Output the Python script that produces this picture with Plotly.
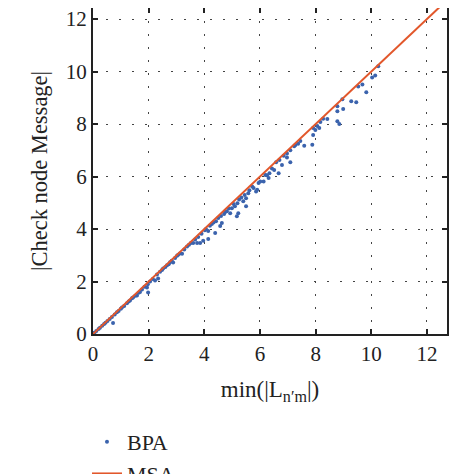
import plotly.graph_objects as go

# BPA samples: min(|L|) vs |check node message|
bpa_x = [0.05, 0.12, 0.20, 0.25, 0.33, 0.40, 0.45, 0.52, 0.60, 0.68, 0.72, 0.78, 0.86, 0.92,
         1.00, 1.04, 1.12, 1.22, 1.28, 1.33, 1.40, 1.44, 1.52, 1.58, 1.64, 1.69, 1.76, 1.85,
         1.94, 1.98, 1.97, 2.05, 2.15, 2.23, 2.34, 2.30, 2.41, 2.48, 2.52, 2.60, 2.66, 2.72,
         2.77, 2.83, 2.88, 2.95, 3.02, 3.06, 3.12, 3.20, 3.28, 3.38, 3.45, 3.52, 3.60, 3.67,
         3.74, 3.78, 3.85, 3.90, 3.96, 4.02, 4.06, 4.14, 4.14, 4.20, 4.27, 4.39, 4.33, 4.42,
         4.50, 4.57, 4.63, 4.60, 4.71, 4.75, 4.81, 4.88, 4.93, 4.99, 5.05, 5.10, 5.17, 5.22,
         5.19, 5.25, 5.33, 5.40, 5.45, 5.50, 5.50, 5.58, 5.62, 5.72, 5.77, 5.86, 5.90, 5.95,
         6.01, 6.13, 6.19, 6.25, 6.31, 6.34, 6.43, 6.51, 6.58, 6.67, 6.70, 6.79, 6.85, 6.97,
         6.97, 7.09, 7.09, 7.23, 7.27, 7.37, 7.45, 7.59, 7.88, 7.91, 7.91, 7.99, 8.06, 8.13,
         8.17, 8.27, 8.42, 8.78, 8.85, 8.78, 8.78, 8.96, 8.99, 9.28, 9.46, 9.53, 9.68, 9.82,
         10.03, 10.14, 10.25, 12.60]
bpa_y = [0.05, 0.11, 0.19, 0.24, 0.31, 0.38, 0.43, 0.50, 0.57, 0.65, 0.42, 0.74, 0.83, 0.88,
         0.96, 1.01, 1.07, 1.17, 1.24, 1.28, 1.36, 1.39, 1.46, 1.47, 1.57, 1.60, 1.70, 1.80,
         1.77, 1.58, 1.90, 2.00, 2.10, 2.04, 2.11, 2.27, 2.37, 2.44, 2.50, 2.55, 2.62, 2.66,
         2.73, 2.79, 2.72, 2.90, 2.98, 3.02, 3.07, 3.06, 3.22, 3.33, 3.40, 3.47, 3.47, 3.60,
         3.47, 3.70, 3.47, 3.82, 3.55, 3.95, 4.00, 3.62, 3.92, 4.12, 4.19, 3.85, 4.25, 4.30,
         4.42, 4.11, 4.23, 4.50, 4.57, 4.65, 4.68, 4.78, 4.60, 4.79, 4.95, 4.87, 4.49, 4.60,
         4.98, 5.12, 5.20, 5.06, 5.30, 5.17, 4.87, 5.36, 5.48, 5.62, 5.56, 5.43, 5.50, 5.75,
         5.81, 5.81, 6.06, 6.05, 5.94, 6.12, 6.31, 6.25, 6.54, 6.12, 6.63, 6.44, 6.79, 6.72,
         6.88, 7.00, 6.54, 7.15, 7.20, 7.25, 7.35, 7.17, 7.21, 7.58, 7.85, 7.77, 7.92, 7.85,
         8.08, 8.20, 8.19, 8.11, 8.00, 8.49, 8.68, 8.94, 8.57, 8.87, 8.83, 9.43, 9.51, 9.21,
         9.77, 9.85, 10.20, 12.50]

# MSA: message magnitude equals the minimum
msa_x = [0, 13]
msa_y = [0, 13]

font = "Liberation Serif"

fig = go.Figure()
fig.add_trace(go.Scatter(x=bpa_x, y=bpa_y, mode="markers", name="BPA",
                         marker=dict(color="#3b63ad", size=4)))
fig.add_trace(go.Scatter(x=msa_x, y=msa_y, mode="lines", name="MSA",
                         line=dict(color="#e2572b", width=2)))

axis = dict(showline=True, linecolor="#222", linewidth=2, mirror="ticks",
            ticks="inside", ticklen=5, tickcolor="#222", tickwidth=1.5,
            showgrid=True, gridcolor="#444", gridwidth=1.3, griddash="2px,11px",
            zeroline=False, dtick=2, automargin=False, ticklabeloverflow="allow",
            tickfont=dict(size=21, color="#222"))

fig.update_layout(
    width=474, height=474,
    margin=dict(l=85, r=35, t=0, b=148, autoexpand=False),
    plot_bgcolor="white", paper_bgcolor="white",
    font=dict(family=font, color="#222", size=21),
    xaxis=dict(axis, range=[0, 12.72],
               title=dict(text="min(|L<sub>n′m</sub>|)", font=dict(size=23), standoff=16)),
    yaxis=dict(axis, range=[0, 12.42],
               title=dict(text="|Check node Message|", font=dict(size=22.5), standoff=12)),
    legend=dict(x=-0.017, y=-0.267, xanchor="left", yanchor="top",
                font=dict(size=22), bgcolor="rgba(0,0,0,0)", tracegroupgap=0),
    showlegend=True,
)

fig.write_html("out.html")
